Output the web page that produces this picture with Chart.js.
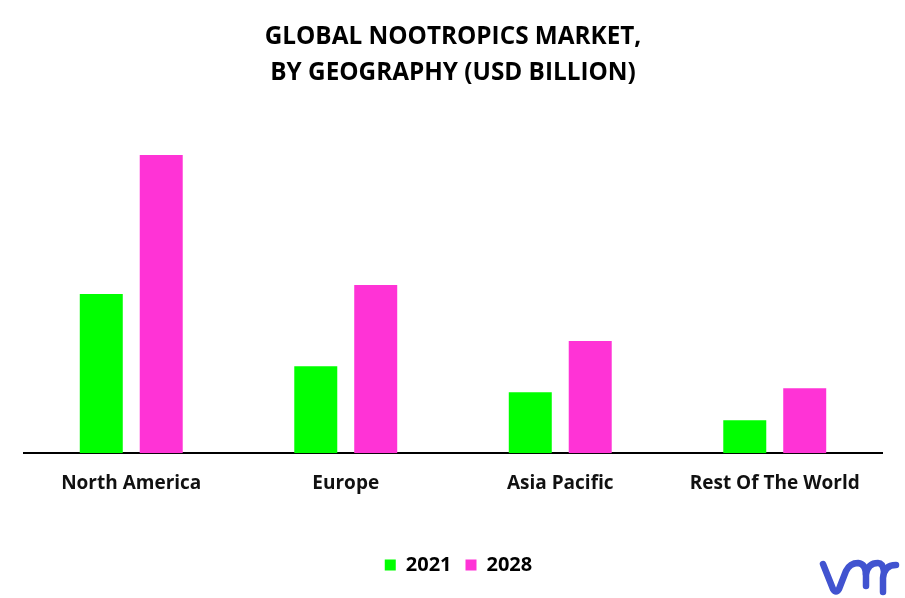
<!DOCTYPE html>
<html><head><meta charset="utf-8">
<style>html,body{margin:0;padding:0;background:#fff}#w{width:905px;height:598px;position:relative}</style>
<script src="https://cdn.jsdelivr.net/npm/chart.js@4/dist/chart.umd.min.js"></script>
</head><body><div id="w"><canvas id="c" width="905" height="598"></canvas></div>
<script>
const categories = ["North America","Europe","Asia Pacific","Rest Of The World"];
const values2021 = [1.59,0.87,0.61,0.33];
const values2028 = [2.98,1.68,1.12,0.65];
const seriesNames = ["2021","2028"];
const titleLines = ["GLOBAL NOOTROPICS MARKET,","BY GEOGRAPHY (USD BILLION)"];
const FF = '"Open Sans"';
const logo = {id:'logo',
 afterLayout(ch){ch.legend.left+=5.5;ch.legend.right+=5.5;},
 afterDraw(ch){
  const c=ch.ctx;c.save();c.strokeStyle='#4153d0';c.lineWidth=6.5;c.lineCap='round';c.lineJoin='round';
  c.beginPath();c.moveTo(823,564);c.lineTo(833,589);c.quadraticCurveTo(836,594,839,589);
  c.lineTo(846,571);c.quadraticCurveTo(850,563,858,563);c.quadraticCurveTo(866,564,866,575);c.lineTo(866,586);c.stroke();
  c.beginPath();c.moveTo(866,574);c.quadraticCurveTo(868,563,878,563);c.quadraticCurveTo(883,563,884,572);c.stroke();
  c.beginPath();c.moveTo(896,565);c.quadraticCurveTo(884,565,883,578);c.lineTo(883,592);c.stroke();
  c.restore();
}};
new Chart(document.getElementById('c'),{
  type:'bar',
  data:{labels:categories,datasets:[
    {label:seriesNames[0],data:values2021,backgroundColor:'#00ff00'},
    {label:seriesNames[1],data:values2028,backgroundColor:'#ff33d6'}
  ]},
  plugins:[logo],
  options:{
    responsive:false,animation:false,
    layout:{padding:{left:24,right:23,top:19,bottom:13}},
    datasets:{bar:{categoryPercentage:0.559,barPercentage:0.717}},
    plugins:{
      tooltip:{enabled:false},
      title:{display:true,text:titleLines,color:'#000',font:{family:FF,weight:'bold',size:24.3,lineHeight:1.48},padding:{top:0,bottom:16}},
      legend:{position:'bottom',labels:{color:'#000',boxWidth:11,boxHeight:11,padding:14,font:{family:FF,weight:'bold',size:20}}}
    },
    scales:{
      x:{grid:{display:false,drawTicks:false},border:{color:'#000',width:2},
         afterFit(s){s.height+=27;},
         ticks:{color:'#111',padding:19,maxRotation:0,font:{family:FF,weight:'bold',size:19}}},
      y:{display:false,min:0,max:3.46}
    }
  }
});
</script></body></html>
